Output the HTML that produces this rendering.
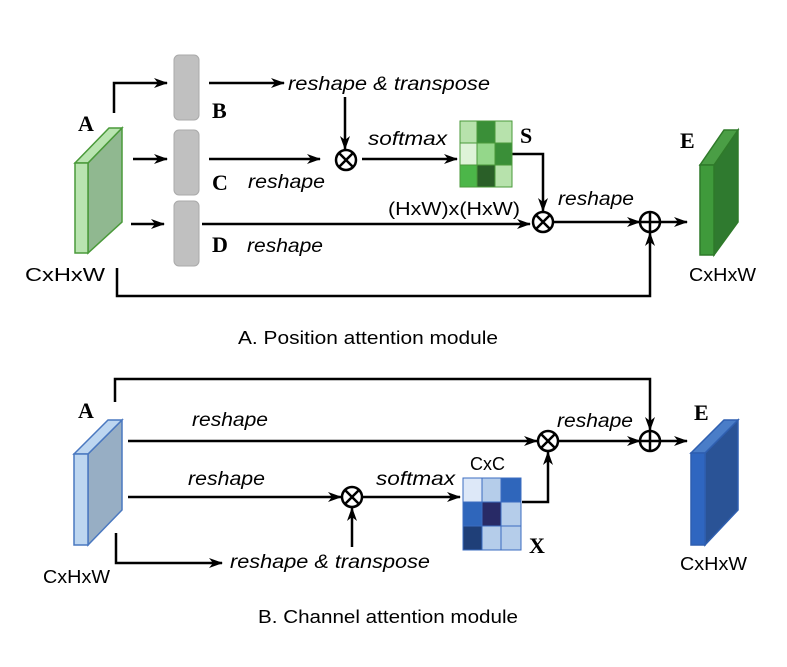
<!DOCTYPE html>
<html><head><style>body{margin:0;background:#fff}svg{display:block}
.t{font-family:"Liberation Sans",sans-serif;font-size:19px;font-style:italic;fill:#000}
.n{font-family:"Liberation Sans",sans-serif;font-size:18px;fill:#000}
.b{font-family:"Liberation Serif",serif;font-size:22px;font-weight:bold;fill:#000}
</style></head><body>
<svg width="787" height="667" viewBox="0 0 787 667">
<defs><marker id="ar" markerWidth="14" markerHeight="10" refX="13" refY="5" orient="auto" markerUnits="userSpaceOnUse"><path d="M0,0 L14,5 L0,10 L4,5z" fill="#000"/></marker></defs>
<g stroke="#000" stroke-width="2.5" fill="none">
<path d="M114,113 V83 H167" marker-end="url(#ar)"/>
<path d="M209,83 H284" marker-end="url(#ar)"/>
<path d="M345,97 V149" marker-end="url(#ar)"/>
<path d="M133,159 H167" marker-end="url(#ar)"/>
<path d="M209,159 H320" marker-end="url(#ar)"/>
<path d="M362,159 H457" marker-end="url(#ar)"/>
<path d="M512,154 H543 V211" marker-end="url(#ar)"/>
<path d="M131,224 H164" marker-end="url(#ar)"/>
<path d="M202,224 H530" marker-end="url(#ar)"/>
<path d="M553,222 H640" marker-end="url(#ar)"/>
<path d="M661,222 H687" marker-end="url(#ar)"/>
<path d="M117,268 V296 H650 V233" marker-end="url(#ar)"/>
<circle cx="346" cy="160" r="10"/><path d="M339,153 L353,167 M353,153 L339,167"/>
<circle cx="543" cy="222" r="10"/><path d="M536,215 L550,229 M550,215 L536,229"/>
<circle cx="650" cy="222" r="10"/><path d="M640,222 H660 M650,212 V232"/>
<path d="M115,402 V379 H650 V430" marker-end="url(#ar)"/>
<path d="M128,441 H537" marker-end="url(#ar)"/>
<path d="M558,441 H640" marker-end="url(#ar)"/>
<path d="M661,441 H687" marker-end="url(#ar)"/>
<path d="M128,497 H341" marker-end="url(#ar)"/>
<path d="M352,547 V508" marker-end="url(#ar)"/>
<path d="M362,497 H460" marker-end="url(#ar)"/>
<path d="M522,502 H548 V452" marker-end="url(#ar)"/>
<path d="M116,533 V563 H222" marker-end="url(#ar)"/>
<circle cx="352" cy="497" r="10"/><path d="M345,490 L359,504 M359,490 L345,504"/>
<circle cx="548" cy="441" r="10"/><path d="M541,434 L555,448 M555,434 L541,448"/>
<circle cx="650" cy="441" r="10"/><path d="M640,441 H660 M650,431 V451"/>
</g>
<g fill="#c0c0c0" stroke="#aaa" stroke-width="1">
<rect x="174" y="55" width="25" height="65" rx="5"/>
<rect x="174" y="130" width="25" height="65" rx="5"/>
<rect x="174" y="201" width="25" height="65" rx="5"/>
</g>
<g stroke="#4a9a3a" stroke-width="1.5">
<polygon points="88,163 122,128 122,222 88,253" fill="#90b890"/>
<polygon points="75,163 88,163 122,128 109,128" fill="#b9e4b0"/>
<rect x="75" y="163" width="13" height="90" fill="#b9e4b0"/>
</g>
<g stroke="#2f7a2a" stroke-width="1.5">
<polygon points="714,165 738,130 738,222 714,255" fill="#2f7a2f"/>
<polygon points="700,165 714,165 738,130 724,130" fill="#4a9e45"/>
<rect x="700" y="165" width="14" height="90" fill="#3f9a3b"/>
</g>
<g stroke="#4a9a3a" stroke-width="1">
<rect x="460" y="121" width="17" height="22" fill="#b7e2ac"/><rect x="477" y="121" width="18" height="22" fill="#3a8f38"/><rect x="495" y="121" width="17" height="22" fill="#b7e2ac"/>
<rect x="460" y="143" width="17" height="22" fill="#def3d8"/><rect x="477" y="143" width="18" height="22" fill="#94d78a"/><rect x="495" y="143" width="17" height="22" fill="#3a8f38"/>
<rect x="460" y="165" width="17" height="22" fill="#4cb649"/><rect x="477" y="165" width="18" height="22" fill="#2a5f28"/><rect x="495" y="165" width="17" height="22" fill="#b7e2ac"/>
</g>
<g stroke="#4a78c0" stroke-width="1.5">
<polygon points="88,454 122,420 122,510 88,545" fill="#97aec4"/>
<polygon points="74,454 88,454 122,420 108,420" fill="#bdd6f0"/>
<rect x="74" y="454" width="14" height="91" fill="#bdd6f0"/>
</g>
<g stroke="#2f5fb0" stroke-width="1.5">
<polygon points="705,453 738,420 738,510 705,545" fill="#2a5396"/>
<polygon points="691,453 705,453 738,420 724,420" fill="#4a7dc8"/>
<rect x="691" y="453" width="14" height="92" fill="#2f66c0"/>
</g>
<g stroke="#3b6cc0" stroke-width="1">
<rect x="463" y="478" width="19" height="24" fill="#dde8f8"/><rect x="482" y="478" width="19" height="24" fill="#b5cdea"/><rect x="501" y="478" width="20" height="24" fill="#2f66bb"/>
<rect x="463" y="502" width="19" height="24" fill="#2f66bb"/><rect x="482" y="502" width="19" height="24" fill="#282a66"/><rect x="501" y="502" width="20" height="24" fill="#b5cdea"/>
<rect x="463" y="526" width="19" height="24" fill="#1f3f78"/><rect x="482" y="526" width="19" height="24" fill="#b5cdea"/><rect x="501" y="526" width="20" height="24" fill="#b5cdea"/>
</g>
<text class="b" x="78" y="131">A</text>
<text class="b" x="212" y="118">B</text>
<text class="b" x="212" y="190">C</text>
<text class="b" x="212" y="252">D</text>
<text class="b" x="520" y="143">S</text>
<text class="b" x="680" y="148">E</text>
<text class="b" x="78" y="418">A</text>
<text class="b" x="694" y="420">E</text>
<text class="b" x="529" y="553">X</text>
<text class="t" x="288" y="90" textLength="202" lengthAdjust="spacingAndGlyphs">reshape &amp; transpose</text>
<text class="t" x="368" y="145" textLength="79" lengthAdjust="spacingAndGlyphs">softmax</text>
<text class="t" x="248" y="188" textLength="77" lengthAdjust="spacingAndGlyphs">reshape</text>
<text class="t" x="247" y="252" textLength="76" lengthAdjust="spacingAndGlyphs">reshape</text>
<text class="t" x="558" y="205" textLength="76" lengthAdjust="spacingAndGlyphs">reshape</text>
<text class="n" x="388" y="215" textLength="132" lengthAdjust="spacingAndGlyphs">(HxW)x(HxW)</text>
<text class="n" x="25" y="281" textLength="80" lengthAdjust="spacingAndGlyphs">CxHxW</text>
<text class="n" x="689" y="281" textLength="67" lengthAdjust="spacingAndGlyphs">CxHxW</text>
<text class="n" x="238" y="344" textLength="260" lengthAdjust="spacingAndGlyphs">A. Position attention module</text>
<text class="t" x="192" y="426" textLength="76" lengthAdjust="spacingAndGlyphs">reshape</text>
<text class="t" x="188" y="485" textLength="77" lengthAdjust="spacingAndGlyphs">reshape</text>
<text class="t" x="376" y="485" textLength="79" lengthAdjust="spacingAndGlyphs">softmax</text>
<text class="t" x="557" y="427" textLength="76" lengthAdjust="spacingAndGlyphs">reshape</text>
<text class="t" x="230" y="568" textLength="200" lengthAdjust="spacingAndGlyphs">reshape &amp; transpose</text>
<text class="n" x="470" y="470" textLength="35" lengthAdjust="spacingAndGlyphs">CxC</text>
<text class="n" x="43" y="583" textLength="67" lengthAdjust="spacingAndGlyphs">CxHxW</text>
<text class="n" x="680" y="570" textLength="67" lengthAdjust="spacingAndGlyphs">CxHxW</text>
<text class="n" x="258" y="623" textLength="260" lengthAdjust="spacingAndGlyphs">B. Channel attention module</text>
</svg>
</body></html>
